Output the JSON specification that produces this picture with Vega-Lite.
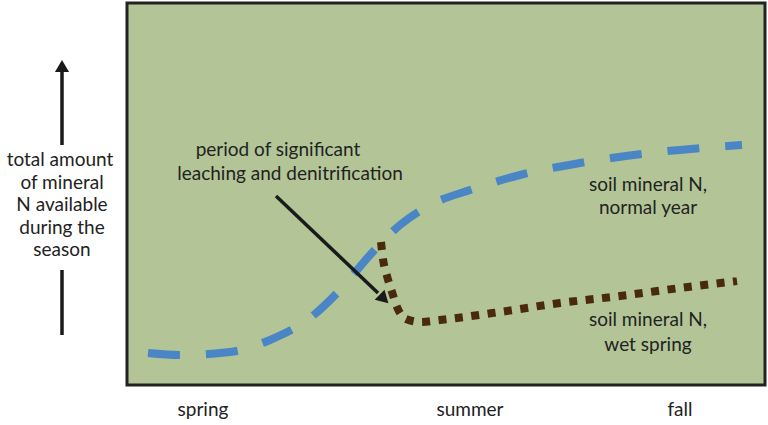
{
  "$schema": "https://vega.github.io/schema/vega-lite/v6.json",
  "width": 638,
  "height": 382,
  "autosize": "none",
  "padding": {"left": 127, "top": 3, "right": 3, "bottom": 40},
  "background": "white",
  "config": {
    "view": {"stroke": "#222222", "strokeWidth": 3, "fill": "#b3c597"},
    "text": {"font": "Lato", "fontSize": 19, "color": "#222222"}
  },
  "datasets": {
    "blue": [
      {"x": 21, "y": 32}, {"x": 53, "y": 30}, {"x": 103, "y": 33}, {"x": 143, "y": 45},
      {"x": 183, "y": 67}, {"x": 213, "y": 95}, {"x": 243, "y": 130}, {"x": 273, "y": 160},
      {"x": 303, "y": 180}, {"x": 343, "y": 195}, {"x": 393, "y": 210}, {"x": 453, "y": 222},
      {"x": 523, "y": 232}, {"x": 615, "y": 240}
    ],
    "brown": [
      {"x": 254, "y": 143}, {"x": 256, "y": 126}, {"x": 260, "y": 109}, {"x": 265, "y": 93},
      {"x": 270, "y": 78}, {"x": 279, "y": 66}, {"x": 294, "y": 63}, {"x": 313, "y": 65},
      {"x": 373, "y": 73}, {"x": 433, "y": 82}, {"x": 493, "y": 89}, {"x": 553, "y": 97},
      {"x": 610, "y": 104}
    ],
    "labels": [
      {"t": "total amount", "x": -67, "y": 225},
      {"t": "of mineral", "x": -65, "y": 202},
      {"t": "N available", "x": -65, "y": 180},
      {"t": "during the", "x": -65, "y": 157},
      {"t": "season", "x": -65, "y": 135},
      {"t": "spring", "x": 76, "y": -25},
      {"t": "summer", "x": 343, "y": -25},
      {"t": "fall", "x": 553, "y": -25},
      {"t": "period of significant", "x": 151, "y": 235},
      {"t": "leaching and denitrification", "x": 163, "y": 211},
      {"t": "soil mineral N,", "x": 521, "y": 200},
      {"t": "normal year", "x": 521, "y": 177},
      {"t": "soil mineral N,", "x": 521, "y": 65},
      {"t": "wet spring", "x": 521, "y": 40}
    ],
    "shafts": [
      {"x": 149, "y": 189, "x2": 251, "y2": 92},
      {"x": -65, "y": 240, "x2": -65, "y2": 316},
      {"x": -65, "y": 50, "x2": -65, "y2": 115}
    ],
    "heads": [
      {"x": 257, "y": 86, "a": 134},
      {"x": -65, "y": 319, "a": 0}
    ]
  },
  "layer": [
    {
      "data": {"name": "blue"},
      "mark": {"type": "line", "interpolate": "monotone", "color": "#4a86c6", "strokeWidth": 8, "strokeDash": [32, 26], "strokeCap": "butt"},
      "encoding": {
        "x": {"field": "x", "type": "quantitative", "scale": {"domain": [0, 638], "nice": false, "zero": false}, "axis": null},
        "y": {"field": "y", "type": "quantitative", "scale": {"domain": [0, 382], "nice": false, "zero": false}, "axis": null}
      }
    },
    {
      "data": {"name": "brown"},
      "mark": {"type": "line", "interpolate": "monotone", "color": "#4a2a0c", "strokeWidth": 8, "strokeDash": [8, 8.5], "strokeCap": "butt"},
      "encoding": {
        "x": {"field": "x", "type": "quantitative"},
        "y": {"field": "y", "type": "quantitative"}
      }
    },
    {
      "data": {"name": "shafts"},
      "mark": {"type": "rule", "color": "#1a1a1a", "strokeWidth": 3.5},
      "encoding": {
        "x": {"field": "x", "type": "quantitative"},
        "y": {"field": "y", "type": "quantitative"},
        "x2": {"field": "x2"},
        "y2": {"field": "y2"}
      }
    },
    {
      "data": {"name": "heads"},
      "mark": {"type": "point", "shape": "triangle-up", "filled": true, "color": "#1a1a1a", "size": 200, "opacity": 1},
      "encoding": {
        "x": {"field": "x", "type": "quantitative"},
        "y": {"field": "y", "type": "quantitative"},
        "angle": {"field": "a", "type": "quantitative", "scale": null}
      }
    },
    {
      "data": {"name": "labels"},
      "mark": {"type": "text", "align": "center", "baseline": "middle"},
      "encoding": {
        "x": {"field": "x", "type": "quantitative"},
        "y": {"field": "y", "type": "quantitative"},
        "text": {"field": "t"}
      }
    }
  ]
}
